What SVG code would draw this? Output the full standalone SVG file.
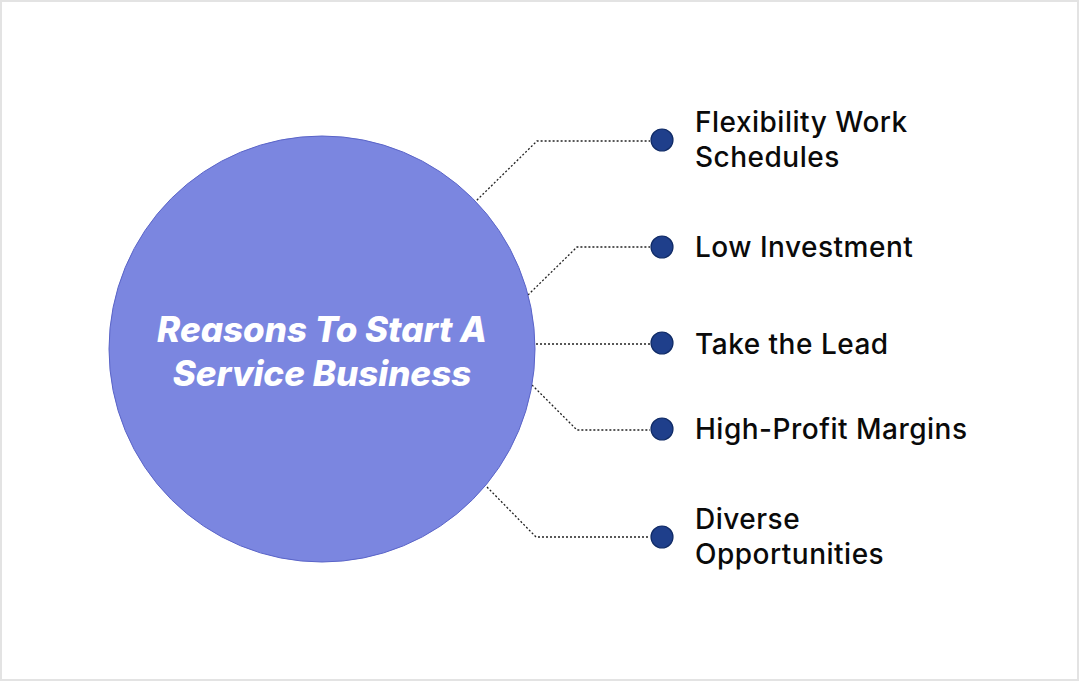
<svg xmlns="http://www.w3.org/2000/svg" width="1080" height="682" viewBox="0 0 1080 682">
<style>
.lbl{font-family:Inter,"Noto Sans","Liberation Sans",sans-serif;font-size:28px;font-weight:500;letter-spacing:0.5px;fill:#0a0a0a;}
.title{font-family:Inter,"Noto Sans","Liberation Sans",sans-serif;font-size:35px;font-weight:800;font-style:italic;fill:#ffffff;text-anchor:middle;}
.con{fill:none;stroke:#222222;stroke-width:1.3;stroke-dasharray:2 2;}
.dot{fill:#1f3f8b;stroke:#102b66;stroke-width:1.2;}
</style>
<rect x="0" y="0" width="1080" height="682" fill="#ffffff"/>
<rect x="1" y="1" width="1077" height="679" fill="none" stroke="#e3e3e3" stroke-width="2"/>
<g id="connectors">
<polyline class="con" points="474,203 537,141 650,141"/>
<polyline class="con" points="528,295 577,247 650,247"/>
<polyline class="con" points="536,344 650,344"/>
<polyline class="con" points="532,385 577,430 650,430"/>
<polyline class="con" points="487,487 536,537 650,537"/>
</g>
<g id="center">
<circle cx="322" cy="349" r="213" fill="#7b86e0" stroke="#5a64c8" stroke-width="1"/>
<text class="title" x="322" y="342">Reasons To Start A</text>
<text class="title" x="322" y="386">Service Business</text>
</g>
<g id="n1">
<circle class="dot" cx="662" cy="140" r="11"/>
<text class="lbl" x="695" y="132">Flexibility Work</text>
<text class="lbl" x="695" y="167">Schedules</text>
</g>
<g id="n2">
<circle class="dot" cx="662" cy="247" r="11"/>
<text class="lbl" x="695" y="257">Low Investment</text>
</g>
<g id="n3">
<circle class="dot" cx="662" cy="343" r="11"/>
<text class="lbl" x="695" y="354">Take the Lead</text>
</g>
<g id="n4">
<circle class="dot" cx="662" cy="429" r="11"/>
<text class="lbl" x="695" y="439">High-Profit Margins</text>
</g>
<g id="n5">
<circle class="dot" cx="662" cy="537" r="11"/>
<text class="lbl" x="695" y="529">Diverse</text>
<text class="lbl" x="695" y="564">Opportunities</text>
</g>
</svg>
